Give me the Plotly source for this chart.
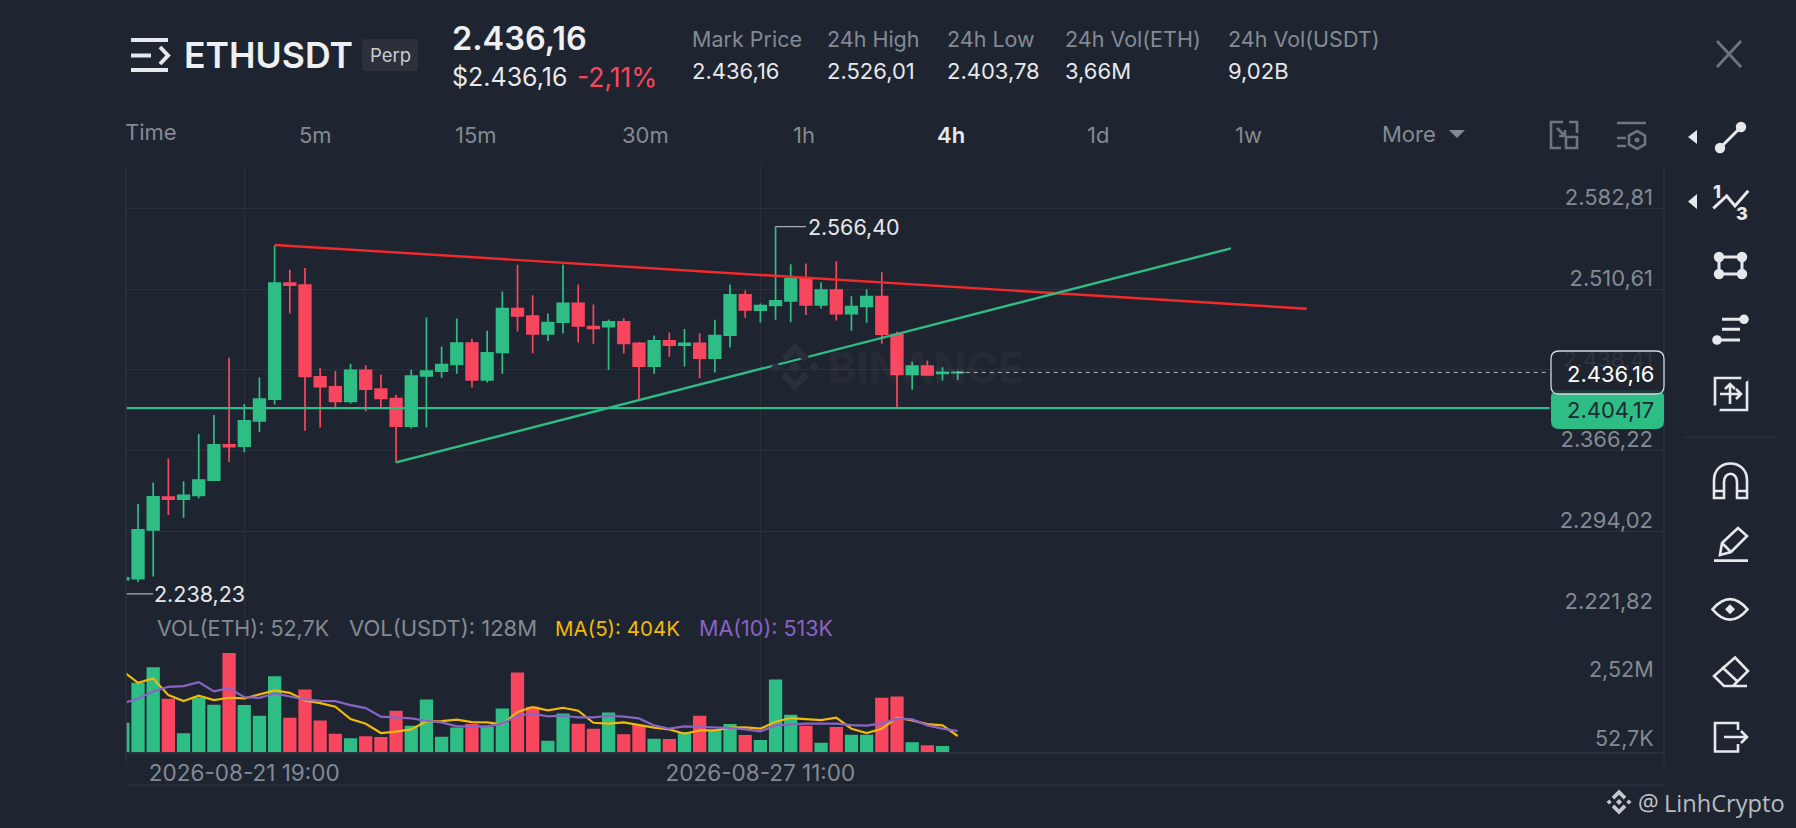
import plotly.graph_objects as go
import pandas as pd

BG = "#1F2530"
GRID = "#2B303B"
GREY = "#848A94"
LIGHT = "#E6E8EB"
GREEN = "#2EBD85"
RED = "#F9465F"
YELLOW = "#F0B90B"
PURPLE = "#8A63C4"
FONT = "Inter"

dates = pd.date_range("2026-08-20 11:00", periods=56, freq="4h")

opens = [2250.9, 2251.8, 2295.5, 2324.7, 2322.9, 2326.2, 2339.9, 2371.5, 2370.3, 2392.9,
         2412.3, 2515.9, 2514.1, 2432.2, 2423.3, 2410.2, 2437.9, 2421.2, 2412.8, 2388.1,
         2433.1, 2437.3, 2443.2, 2462.3, 2429.5, 2453.9, 2493.2, 2486.4, 2470.6, 2481.0,
         2497.7, 2477.1, 2477.1, 2481.3, 2462.0, 2441.7, 2464.3, 2460.5, 2462.0, 2448.9,
         2469.4, 2505.4, 2491.7, 2495.9, 2500.1, 2519.7, 2496.5, 2509.6, 2488.5, 2495.0,
         2503.9, 2470.0, 2434.3, 2441.7, 2435.2, 2435.8]
highs = [2252.6, 2318.5, 2337.8, 2359.3, 2339.0, 2381.0, 2398.0, 2449.2, 2407.8, 2431.6,
         2549.5, 2527.8, 2529.5, 2439.9, 2437.3, 2443.8, 2442.6, 2434.3, 2416.1, 2438.4,
         2485.2, 2459.3, 2484.3, 2466.1, 2473.3, 2508.4, 2532.2, 2505.1, 2488.8, 2532.5,
         2514.7, 2496.8, 2483.4, 2484.6, 2463.2, 2469.1, 2471.8, 2474.8, 2471.2, 2483.1,
         2514.7, 2509.3, 2497.7, 2566.40, 2532.8, 2533.4, 2516.7, 2535.5, 2504.2, 2510.5,
         2525.7, 2472.7, 2445.6, 2446.8, 2440.8, 2437.6]
lows = [2238.23, 2248.8, 2253.9, 2308.7, 2306.3, 2323.8, 2339.9, 2356.0, 2364.9, 2382.8,
        2407.5, 2488.8, 2384.0, 2386.9, 2404.8, 2408.4, 2401.5, 2404.2, 2355.7, 2386.1,
        2386.9, 2431.3, 2434.9, 2422.7, 2427.1, 2434.9, 2472.7, 2453.3, 2464.1, 2470.9,
        2462.9, 2461.7, 2438.2, 2453.0, 2412.5, 2434.6, 2450.1, 2441.4, 2431.0, 2436.1,
        2458.4, 2484.9, 2480.7, 2483.1, 2481.0, 2487.3, 2493.2, 2482.5, 2473.3, 2480.4,
        2461.7, 2404.2, 2420.6, 2433.1, 2428.9, 2429.5]
closes = [2252.6, 2295.5, 2325.0, 2322.9, 2326.2, 2339.9, 2371.5, 2369.7, 2392.9, 2412.3,
          2515.9, 2514.1, 2432.5, 2423.3, 2410.2, 2437.9, 2421.2, 2412.8, 2388.1, 2432.8,
          2437.3, 2443.2, 2462.3, 2429.5, 2453.6, 2493.2, 2486.7, 2470.6, 2480.7, 2497.7,
          2477.7, 2475.4, 2481.3, 2462.0, 2441.7, 2464.3, 2460.5, 2462.0, 2448.9, 2469.1,
          2505.4, 2492.0, 2495.9, 2500.1, 2519.7, 2496.5, 2509.6, 2488.5, 2495.0, 2503.9,
          2470.3, 2434.3, 2441.7, 2434.0, 2436.1, 2436.16]

# thousands of ETH
volumes = [695, 1571, 1914, 1221, 462, 1250, 1089, 2228, 1082, 848,
           1717, 805, 1425, 746, 454, 352, 396, 382, 958, 630,
           1206, 389, 593, 666, 608, 1009, 1798, 1046, 301, 900,
           674, 564, 922, 440, 644, 345, 338, 491, 848, 535,
           666, 425, 316, 1644, 871, 630, 257, 601, 433, 433,
           1243, 1272, 265, 199, 184, 52.7]
ma5 = [1827, 1571, 1666, 1301, 1170, 1287, 1192, 1243, 1228, 1309,
       1404, 1352, 1185, 1126, 1046, 776, 674, 469, 498, 549,
       725, 732, 761, 710, 703, 659, 929, 1039, 966, 1024,
       958, 695, 674, 703, 644, 586, 549, 454, 528, 528,
       586, 593, 564, 717, 798, 783, 754, 805, 564, 469,
       564, 805, 746, 666, 637, 404]
ma10 = [1119, 1228, 1382, 1484, 1498, 1586, 1382, 1455, 1258, 1243,
        1338, 1265, 1206, 1177, 1170, 1082, 1017, 827, 812, 790,
        739, 703, 615, 608, 615, 674, 848, 893, 834, 848,
        812, 812, 848, 827, 790, 637, 564, 615, 608, 586,
        579, 549, 506, 637, 659, 674, 674, 674, 644, 630,
        681, 783, 768, 637, 564, 513]

price_ticks = [2582.81, 2510.61, 2438.41, 2366.22, 2294.02, 2221.82]
price_tick_labels = ["2.582,81", "2.510,61", "2.438,41", "2.366,22", "2.294,02", "2.221,82"]
date_ticks = ["2026-08-21 19:00", "2026-08-27 11:00"]
date_tick_labels = ["2026-08-21 19:00", "2026-08-27 11:00"]

last_price = 2436.16
level_price = 2404.17
level_x = ["2026-08-20 11:00", "2026-09-05 03:00"]
red_trend_x = ["2026-08-22 03:00", "2026-09-02 11:00"]
red_trend_y = [2550.0, 2493.0]
green_trend_x = ["2026-08-23 11:00", "2026-09-01 15:00"]
green_trend_y = [2355.7, 2546.9]

x_range = ["2026-08-20 11:50", "2026-09-06 09:07"]

bar_colors = [GREEN if c >= o else RED for o, c in zip(opens, closes)]

fig = go.Figure()

fig.add_trace(go.Candlestick(
    x=dates, open=opens, high=highs, low=lows, close=closes,
    increasing=dict(line=dict(color=GREEN, width=1.7), fillcolor=GREEN),
    decreasing=dict(line=dict(color=RED, width=1.7), fillcolor=RED),
    whiskerwidth=0, showlegend=False, xaxis="x", yaxis="y",
))

# drawn lines
fig.add_trace(go.Scatter(x=level_x, y=[level_price, level_price], mode="lines",
                         line=dict(color=GREEN, width=2.2), showlegend=False))
fig.add_trace(go.Scatter(x=red_trend_x, y=red_trend_y, mode="lines",
                         line=dict(color="#F32A2C", width=2.4), showlegend=False))
fig.add_trace(go.Scatter(x=green_trend_x, y=green_trend_y, mode="lines",
                         line=dict(color=GREEN, width=2.4), showlegend=False))
fig.add_trace(go.Scatter(x=[dates[-1], level_x[1]], y=[last_price, last_price], mode="lines",
                         line=dict(color="#B8BCC4", width=1, dash="4px,4px"), showlegend=False))

# max / min markers
fig.add_trace(go.Scatter(x=[dates[43], dates[45]], y=[highs[43], highs[43]], mode="lines",
                         line=dict(color="#A9ADB5", width=1.3), showlegend=False))
fig.add_trace(go.Scatter(x=[dates[0], dates[2]], y=[lows[0], lows[0]], mode="lines",
                         line=dict(color="#A9ADB5", width=1.3), showlegend=False))

# volume pane
fig.add_trace(go.Bar(x=dates, y=volumes, marker=dict(color=bar_colors, line=dict(width=0)),
                     showlegend=False, xaxis="x2", yaxis="y2"))
fig.add_trace(go.Scatter(x=dates, y=ma5, mode="lines", line=dict(color=YELLOW, width=2.2),
                         showlegend=False, xaxis="x2", yaxis="y2"))
fig.add_trace(go.Scatter(x=dates, y=ma10, mode="lines", line=dict(color=PURPLE, width=2.2),
                         showlegend=False, xaxis="x2", yaxis="y2"))

# pixel overlay for the app chrome
fig.add_trace(go.Scatter(x=[], y=[], xaxis="x3", yaxis="y3", showlegend=False))

shapes = []
annotations = []


def label(x, y, text, size=20, color=GREY, anchor="left", weight=400, family=FONT):
    # annotations keep a small inner pad, take it back here
    if anchor == "left":
        x -= 2
    elif anchor == "right":
        x += 2.5
    annotations.append(dict(x=x, y=y, xref="x3", yref="y3", text=text, showarrow=False,
                            xanchor=anchor, yanchor="middle",
                            font=dict(size=size, color=color, family=family, weight=weight)))


def icon(path, color=LIGHT, width=2.6, fill=None):
    shapes.append(dict(type="path", path=path, xref="x3", yref="y3",
                       line=dict(color=color, width=width),
                       fillcolor=fill if fill else "rgba(0,0,0,0)"))


def dot(cx, cy, r, color=LIGHT):
    shapes.append(dict(type="circle", xref="x3", yref="y3", x0=cx - r, x1=cx + r, y0=cy - r, y1=cy + r,
                       line=dict(color=color, width=0), fillcolor=color))


def diamond(cx, cy, r):
    return f"M{cx} {cy - r} L{cx + r} {cy} L{cx} {cy + r} L{cx - r} {cy} Z"


def binance_logo(cx, cy, r, color, layer="above"):
    s = r / 25
    top = (f"M{cx - 14 * s} {cy - 10 * s} L{cx} {cy - 24 * s} L{cx + 14 * s} {cy - 10 * s} "
           f"L{cx + 9 * s} {cy - 5 * s} L{cx} {cy - 14 * s} L{cx - 9 * s} {cy - 5 * s} Z")
    bottom = (f"M{cx - 14 * s} {cy + 10 * s} L{cx} {cy + 24 * s} L{cx + 14 * s} {cy + 10 * s} "
              f"L{cx + 9 * s} {cy + 5 * s} L{cx} {cy + 14 * s} L{cx - 9 * s} {cy + 5 * s} Z")
    for p in [top, bottom, diamond(cx, cy, 6 * s), diamond(cx - 19 * s, cy, 5 * s), diamond(cx + 19 * s, cy, 5 * s)]:
        shapes.append(dict(type="path", path=p, xref="x3", yref="y3", layer=layer,
                           line=dict(width=0), fillcolor=color))


# frame lines
for x0, y0, x1, y1 in [(126, 165, 126, 765), (1664, 165, 1664, 765), (126, 785, 1664, 785),
                       (1684, 437, 1777, 437)]:
    shapes.append(dict(type="line", xref="x3", yref="y3", x0=x0, y0=y0, x1=x1, y1=y1, layer="below",
                       line=dict(color=GRID, width=1.5)))

# watermark
binance_logo(795, 367, 25, "#2A303B", layer="below")
label(828, 367, "BINANCE", size=43, color="rgba(255,255,255,0.055)", weight=700)

# header
icon("M131 40 H168 M131 55.5 H151 M131 70 H168", width=4)
icon("M160 47 L168 55.5 L160 64", width=4)
label(184, 55, "ETHUSDT", size=35.6, color="#EEF0F2", weight=600)
shapes.append(dict(type="path", xref="x3", yref="y3", line=dict(width=0), fillcolor="#2B303A",
                   path="M366 39 H414 Q418 39 418 43 V67 Q418 71 414 71 H366 Q362 71 362 67 V43 Q362 39 366 39 Z"))
label(390, 55, "Perp", size=18.5, color="#C8CCD2", anchor="center")
label(452, 38, "2.436,16", size=32.5, color="#EEF0F2", weight=600)
label(452, 77, "$2.436,16", size=25, color="#E6E8EB")
label(577, 77, "-2,11%", size=26.5, color=RED)

stat_x = [692, 827, 947, 1065, 1228]
stat_names = ["Mark Price", "24h High", "24h Low", "24h Vol(ETH)", "24h Vol(USDT)"]
stat_values = ["2.436,16", "2.526,01", "2.403,78", "3,66M", "9,02B"]
for x, n, v in zip(stat_x, stat_names, stat_values):
    label(x, 39, n, size=21.5)
    label(x, 71, v, size=22, color=LIGHT)

icon("M1717 41 L1741 67 M1741 41 L1717 67", color="#6F757F", width=2.8)

# interval row
label(125, 132, "Time", size=22)
interval_x = [315, 476, 645, 804, 951, 1098, 1248]
interval_names = ["5m", "15m", "30m", "1h", "4h", "1d", "1w"]
for x, n in zip(interval_x, interval_names):
    if n == "4h":
        label(x, 135, n, size=22, color=LIGHT, anchor="center", weight=600)
    else:
        label(x, 135, n, size=22, anchor="center")
label(1382, 134, "More", size=22)
icon("M1449 130 H1465 L1457 138 Z", color=GREY, width=0, fill=GREY)

# top right icons
icon("M1563 122 H1551 V148 H1561 M1577 133 V122 H1569", color="#6F757F")
icon("M1566 137 H1577 V148 H1566 Z M1557 128 L1565 136 M1565 130 V136 H1559", color="#6F757F")
icon("M1617 123 H1646 M1617 138 H1626 M1617 146 H1626", color="#6F757F")
icon("M1637 131 L1645 135.5 V144.5 L1637 149 L1629 144.5 V135.5 Z", color="#6F757F")
dot(1637, 140, 2.5, "#6F757F")

# side toolbar
icon("M1688 137 L1697 130 V144 Z", width=0, fill=LIGHT)
icon("M1688 201.5 L1697 194 V209 Z", width=0, fill=LIGHT)
dot(1741, 127, 5.2)
dot(1720, 148, 5.2)
icon("M1720 148 L1741 127", width=3)
icon("M1713.3 208.3 L1726.7 196 L1735 206 L1748.3 190.7", width=3)
label(1717, 191, "1", size=18, color=LIGHT, anchor="center", weight=800)
label(1742, 213, "3", size=18, color=LIGHT, anchor="center", weight=800)
icon("M1719 257 H1742 V274 H1719 Z", width=3)
for cx, cy in [(1719, 257), (1742, 257), (1719, 274), (1742, 274)]:
    dot(cx, cy, 5.2)
icon("M1722 319.3 H1744 M1722 329.3 H1740 M1717 340 H1740", width=3)
dot(1744, 319.3, 4.8)
dot(1717, 340, 4.8)
icon("M1715 378 H1747 V410 H1715 Z")
icon("M1730 404 V384 M1725 389 L1730 384 L1735 389 M1720 394 H1741 M1736 389 L1741 394 L1736 399")
dot(1745, 378, 3.8, BG)
dot(1716, 409, 3.8, BG)
icon("M1741.5 378 A3.5 3.5 0 1 1 1748.5 378 A3.5 3.5 0 1 1 1741.5 378 Z M1712.5 409 A3.5 3.5 0 1 1 1719.5 409 A3.5 3.5 0 1 1 1712.5 409 Z", width=2)

icon("M1714 498 V480 C1714 458 1747 458 1747 480 V498 H1737 V482 C1737 471 1724 471 1724 482 V498 Z M1714 491 H1724 M1737 491 H1747")
icon("M1714 560.7 H1748", width=2.8)
icon("M1720 555 L1722 543 L1738 528 L1747 536 L1731 552 Z M1722 543 L1731 552")
icon("M1712.5 609.3 Q1730 589 1747.5 609.3 Q1730 630 1712.5 609.3 Z")
icon(diamond(1730, 609.3, 5), width=0, fill=LIGHT)
icon("M1735 657.5 L1748 671 L1733 686 H1724 L1714 676 Z M1722 667 L1738 682 M1733 686 H1747")
icon("M1738 730 V723 H1715 V751.5 H1738 V744 M1724 737 H1747 M1741 731 L1747 737 L1741 743")

# volume legend
label(157, 628, "VOL(ETH): 52,7K", size=21.5)
label(349, 628, "VOL(USDT): 128M", size=22)
label(555, 628, "MA(5): 404K", size=20.5, color=YELLOW)
label(699, 628, "MA(10): 513K", size=21.5, color=PURPLE)

# volume axis labels sit away from their value, so they are annotations
annotations.append(dict(x=1, y=2520, xref="x2 domain", yref="y2", text="2,52M", showarrow=False,
                        xanchor="right", yanchor="middle", xshift=-8.5, yshift=-29,
                        font=dict(size=21.5, color=GREY, family=FONT)))
annotations.append(dict(x=1, y=52.7, xref="x2 domain", yref="y2", text="52,7K", showarrow=False,
                        xanchor="right", yanchor="middle", xshift=-8.5, yshift=14,
                        font=dict(size=21.5, color=GREY, family=FONT)))

# high / low value labels
annotations.append(dict(x=dates[45], y=highs[43], xref="x", yref="y", text="2.566,40", showarrow=False,
                        xanchor="left", yanchor="middle", xshift=0,
                        font=dict(size=21.5, color=LIGHT, family=FONT)))
annotations.append(dict(x=dates[2], y=lows[0], xref="x", yref="y", text="2.238,23", showarrow=False,
                        xanchor="left", yanchor="middle", xshift=-1,
                        font=dict(size=21.5, color=LIGHT, family=FONT)))

# price badges
shapes.append(dict(type="path", xref="x3", yref="y3", line=dict(width=0), fillcolor=GREEN,
                   path="M1559 390 H1656 Q1664 390 1664 398 V421 Q1664 429 1656 429 H1559 Q1551 429 1551 421 V398 Q1551 390 1559 390 Z"))
shapes.append(dict(type="path", xref="x3", yref="y3", line=dict(color="#D5D7DB", width=1.3),
                   fillcolor="rgba(31,37,48,0.86)",
                   path="M1559 351 H1656 Q1664 351 1664 359 V386 Q1664 394 1656 394 H1559 Q1551 394 1551 386 V359 Q1551 351 1559 351 Z"))
label(1653, 374, "2.436,16", size=22, color="#FFFFFF", anchor="right")
label(1653, 410, "2.404,17", size=22, color="#1E2733", anchor="right")

# author tag
binance_logo(1619, 802, 13, "#C4C7CC")
label(1638, 802, "@", size=23, color="#C4C7CC", family="Open Sans")
label(1664, 803, "LinhCrypto", size=23.6, color="#B9BCC2", family="Open Sans")

x_dom = [126 / 1796, 1664 / 1796]

fig.update_layout(
    template="none",
    width=1796, height=828,
    margin=dict(l=0, r=0, t=0, b=0, pad=0),
    paper_bgcolor=BG, plot_bgcolor="rgba(0,0,0,0)",
    font=dict(family=FONT, color=GREY, size=20),
    showlegend=False,
    boxgap=0.236, boxgroupgap=0,
    bargap=0.125,
    hovermode=False,
    xaxis=dict(domain=x_dom, range=x_range, type="date", anchor="y", rangeslider=dict(visible=False),
               tickvals=date_ticks, showticklabels=False, ticks="", showgrid=True, gridcolor=GRID, gridwidth=1.3,
               zeroline=False, showline=False, automargin=False),
    yaxis=dict(domain=[(828 - 612.3) / 828, (828 - 165) / 828], range=[2221.82, 2621.4], anchor="x",
               side="right", tickvals=price_ticks, ticktext=price_tick_labels, ticks="",
               ticklabelposition="inside", ticklabeloverflow="allow", ticklabelstandoff=8, ticklabelshift=-11,
               tickfont=dict(size=22, color=GREY, family=FONT), automargin=False,
               showgrid=True, gridcolor=GRID, gridwidth=1.3, zeroline=False, showline=False),
    xaxis2=dict(domain=x_dom, range=x_range, type="date", anchor="y2",
                tickvals=date_ticks, ticktext=date_tick_labels, ticks="", ticklen=0, automargin=False,
                tickfont=dict(size=22.5, color=GREY, family=FONT),
                showgrid=True, gridcolor=GRID, gridwidth=1.3, zeroline=False,
                showline=True, linecolor=GRID, linewidth=1.5),
    yaxis2=dict(domain=[(828 - 752) / 828, (828 - 612.3) / 828], range=[52.7, 3119], anchor="x2",
                side="right", showticklabels=False, ticks="", showgrid=False, zeroline=False,
                showline=False, automargin=False),
    xaxis3=dict(domain=[0, 1], range=[0, 1796], visible=False, anchor="y3", fixedrange=True, automargin=False),
    yaxis3=dict(domain=[0, 1], range=[828, 0], visible=False, anchor="x3", fixedrange=True, automargin=False),
    shapes=shapes,
    annotations=annotations,
)

fig.write_html("out.html", config={"displayModeBar": False},
               post_script="document.body.style.margin='0';document.body.style.overflow='hidden';")
